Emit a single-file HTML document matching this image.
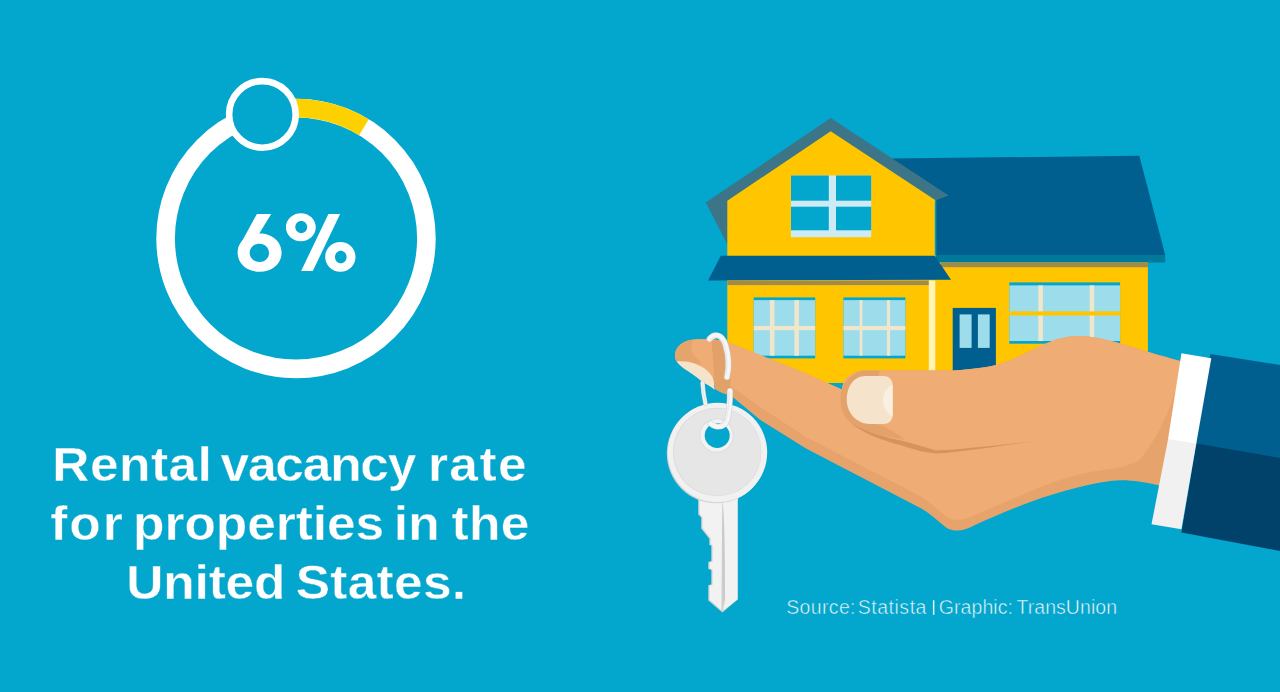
<!DOCTYPE html>
<html><head><meta charset="utf-8">
<style>
html,body{margin:0;padding:0;}
body{width:1280px;height:692px;overflow:hidden;background:#03A6CD;position:relative;font-family:"Liberation Sans",sans-serif;}
svg{position:absolute;left:0;top:0;}
</style></head>
<body>
<svg width="1280" height="692" viewBox="0 0 1280 692">
<!-- ring -->
<circle cx="296" cy="238.5" r="130.4" fill="none" stroke="#FFFFFF" stroke-width="18.6"/>
<path d="M261.59,112.72 A130.4,130.4 0 0 1 363.94,127.2" fill="none" stroke="#FDD100" stroke-width="18.6"/>
<circle cx="262.4" cy="114.4" r="33.3" fill="#03A6CD" stroke="#FFFFFF" stroke-width="6.6"/>
<!-- 6% -->
<g fill="#FFFFFF">
<path fill-rule="evenodd" d="M259.6,233.4 C247,233.4 237.6,241.5 237.6,252.6 C237.6,263.7 247,271.8 259.6,271.8 C272.2,271.8 281.6,263.7 281.6,252.6 C281.6,241.5 272.2,233.4 259.6,233.4 Z M259.4,243.8 C265,243.8 269,247.8 269,252.9 C269,258 265,262 259.4,262 C253.8,262 249.7,258 249.7,252.9 C249.7,247.8 253.8,243.8 259.4,243.8 Z"/>
<path d="M256.9,213.9 L271.2,213.9 L258.8,234.2 L252,242 L237.8,249 Z"/>
<path fill-rule="evenodd" d="M300.9,213.2 C292.6,213.2 285.9,219.5 285.9,227.2 C285.9,234.9 292.6,241.2 300.9,241.2 C309.2,241.2 315.8,234.9 315.8,227.2 C315.8,219.5 309.2,213.2 300.9,213.2 Z M301.2,221 C304.6,221 307.2,223.7 307.2,227 C307.2,230.3 304.6,233.1 301.2,233.1 C297.8,233.1 295.3,230.3 295.3,227 C295.3,223.7 297.8,221 301.2,221 Z"/>
<path fill-rule="evenodd" d="M340.4,242.1 C332,242.1 325.2,248.8 325.2,257 C325.2,265.2 332,271.8 340.4,271.8 C348.8,271.8 355.5,265.2 355.5,257 C355.5,248.8 348.8,242.1 340.4,242.1 Z M340.8,250.7 C344,250.7 346.6,253.5 346.6,257 C346.6,260.5 344,263.3 340.8,263.3 C337.6,263.3 335,260.5 335,257 C335,253.5 337.6,250.7 340.8,250.7 Z"/>
<path d="M328.4,213.9 L340.1,213.9 L312.8,271.1 L301.1,271.1 Z"/>
</g>
<!-- headline -->
<g transform="scale(1.05 1)" fill="#FFFFFF" stroke="#03A6CD" stroke-width="0.4" font-family="Liberation Sans" font-weight="bold" font-size="49">
<text x="49.76" y="481.5" textLength="152.07" lengthAdjust="spacing">Rental</text>
<text x="210.1" y="481.5" textLength="186.42" lengthAdjust="spacing">vacancy</text>
<text x="407.52" y="481.5" textLength="94.04" lengthAdjust="spacing">rate</text>
<text x="47.81" y="540.5" textLength="69.19" lengthAdjust="spacing">for</text>
<text x="126.76" y="540.5" textLength="239.05" lengthAdjust="spacing">properties</text>
<text x="374.95" y="540.5" textLength="43.86" lengthAdjust="spacing">in</text>
<text x="430.0" y="540.5" textLength="74.05" lengthAdjust="spacing">the</text>
<text x="120.19" y="599.0" textLength="151.72" lengthAdjust="spacing">United</text>
<text x="281.62" y="599.0" textLength="162.3" lengthAdjust="spacing">States.</text>
</g>
<g fill="#FFFFFF" fill-opacity="0.95" stroke="#03A6CD" stroke-width="0.5" font-family="Liberation Sans" font-size="19.5">
<text x="786.2" y="613.6" textLength="69.3" lengthAdjust="spacing">Source:</text>
<text x="857.7" y="613.6" textLength="68.73" lengthAdjust="spacing">Statista</text>
<text x="938.7" y="613.6" textLength="74.3" lengthAdjust="spacing">Graphic:</text>
<text x="1016.4" y="613.6" textLength="100.73" lengthAdjust="spacing">TransUnion</text>
</g>
<rect x="932.9" y="600.3" width="1.5" height="14.5" fill="#FFFFFF" fill-opacity="0.9"/>

<!-- HOUSE -->
<!-- main roof -->
<polygon points="892,158.6 1139.3,155.7 1165.2,255 935,255" fill="#005F8E"/>
<polygon points="935,255 1165.2,255 1165.2,262.6 935,262.6" fill="#00799B"/>
<!-- right wall -->
<rect x="935" y="262.6" width="212.9" height="125" fill="#FFC600"/>
<rect x="940.8" y="262.6" width="207.1" height="4.6" fill="#A08B4C"/>
<!-- gable roof -->
<polygon points="830.7,118.1 948.7,195.6 936,200.2 727.3,244.2 705.8,202.5" fill="#3B7587"/>
<!-- gable wall + lower left wall -->
<polygon points="830.7,131.3 935.5,200.2 935.5,383 727.3,383 727.3,200.7" fill="#FFC600"/>
<rect x="934.8" y="200.5" width="1.6" height="54.5" fill="#0795C2"/>
<!-- gable window -->
<rect x="790.9" y="175.5" width="80.3" height="61.7" fill="#CDEBF4"/>
<rect x="791" y="175.5" width="37.8" height="25.2" fill="#03A6CD"/>
<rect x="836" y="175.5" width="35.2" height="25.2" fill="#03A6CD"/>
<rect x="791" y="206.7" width="37.8" height="23.6" fill="#03A6CD"/>
<rect x="836" y="206.7" width="35.2" height="23.6" fill="#03A6CD"/>
<!-- porch roof -->
<polygon points="720.8,255.7 934.8,255.7 951,279.8 708.1,280.5" fill="#005F8E"/>
<rect x="727.3" y="280.5" width="201.7" height="4.6" fill="#A08B4C"/>
<!-- pillar -->
<rect x="928.8" y="280.5" width="6.5" height="100" fill="#FFF4B5"/>
<!-- windows left -->
<g>
<rect x="753.7" y="297.4" width="61.5" height="61" fill="#03A6CD"/>
<rect x="753.7" y="300.1" width="61.5" height="55.6" fill="#9CDCEB"/>
<rect x="769.9" y="300.1" width="4.6" height="55.6" fill="#EFE6CC"/>
<rect x="794.4" y="300.1" width="4.6" height="55.6" fill="#EFE6CC"/>
<rect x="753.7" y="326" width="61.5" height="4.2" fill="#EFE6CC"/>
</g>
<g>
<rect x="843.4" y="297.4" width="62" height="61" fill="#03A6CD"/>
<rect x="843.4" y="300.1" width="62" height="55.6" fill="#9CDCEB"/>
<rect x="859.6" y="300.1" width="2.8" height="55.6" fill="#EFE6CC"/>
<rect x="886.9" y="300.1" width="3.2" height="55.6" fill="#EFE6CC"/>
<rect x="843.4" y="326" width="62" height="4.2" fill="#EFE6CC"/>
</g>
<!-- door -->
<rect x="952.7" y="307.9" width="43.2" height="70" fill="#005F8E"/>
<rect x="959.6" y="314.4" width="12" height="33.5" fill="#9CDCEB"/>
<rect x="977.9" y="314.4" width="11.8" height="33.5" fill="#9CDCEB"/>
<!-- big window -->
<rect x="1009.3" y="282.4" width="110.8" height="61.3" fill="#03A6CD"/>
<rect x="1009.3" y="285.4" width="110.8" height="55.6" fill="#9CDCEB"/>
<rect x="1038.3" y="285.4" width="4.6" height="55.6" fill="#EFE6CC"/>
<rect x="1089.6" y="285.4" width="4.6" height="55.6" fill="#EFE6CC"/>
<rect x="1009.3" y="311.4" width="110.8" height="4.1" fill="#FFC600"/>

<!-- HAND -->
<path d="M675,356.5 C674.5,347 683,340 697,339.3 L711,339.3 C720,339.8 728,342 740,347 L800,371 L842,389.5 C843,378 852,372 862,370.5 L953,370.5 C975,369 990,367 1000,364 C1030,354 1050,336 1078,336 C1105,336 1130,348 1185,362 L1162,486 C1140,481 1125,479 1110,481 C1070,487 1030,500 975,525 C965,530.5 955,533 946,527.5 C938,521 930,513.5 921.8,508.7 L806,448.6 L760,419.7 L729,394 C712,384 700,376 690,370 C682,366 675,362 675,357 Z" fill="#E6A46C"/>
<path d="M675,356.5 C674.5,347 683,340 697,339.3 L711,339.3 C720,339.8 728,342 740,347 L800,371 L842,389.5 C843,378 852,372 862,370.5 L953,370.5 C975,369 990,367 1000,364 C1030,354 1050,336 1078,336 C1105,336 1130,348 1183,362 C1176,390 1168,425 1140,459.5 C1130,466 1115,469 1100,470.5 C1060,476 1030,492 975,515 C965,520 956,522 947,517 C938,510 930,502 921.8,497 L806,437 L760,407 L729,385 C712,377 700,372 690,368 C682,365 675,362 675,357 Z" fill="#EFAC74"/>
<!-- crease + thumb outline -->
<path d="M864,370.5 C850,373 840.5,385 840.5,399 C840.5,412 846,421 856,427 C870,433 888,437 905,440 C900,436 893,431 885,427 C878,424 872,424 866,421 C855,414 849,407 849,399 C849,387 856,378 878,376 L880,370.5 Z" fill="#E4A26B"/>
<path d="M852,424 C866,432 888,438 905,441.5 C915,444 925,447 935.7,450.5 C965,449.5 995,445 1034,441.5 C995,446 965,452 935.7,453.5 C920,452 910,448 900,445 C885,441 866,435 852,424 Z" fill="#D8925C"/>
<path d="M853,376 L884,376 C889,376 892.7,380 892.7,385 L892.7,415 C892.7,420 889,424 884,424 L870,424 C857,424 846.8,413 846.8,400 C846.8,387 853,376 866,376 Z" fill="#F6E3CB"/>
<path d="M892,385 C886,389 883,394 883,400.5 C883,407 886,412 892,416.6 L892.7,416 L892.7,386 Z" fill="#FAEFE3"/>
<!-- fingertip shading -->
<path d="M675,356.5 C674.5,347 683,340 694,339.4 C690,344 690,351 696,357.5 C699,360.5 701,362.5 702,364 L693.9,363.2 C688,361.5 682,361 676.6,361.4 Z" fill="#E6A46D"/>
<path d="M711.2,339.8 C717,340 722,341 727,343 L730.5,360 L730.5,382 L729,395 C724,394 719,392 715,389 C714,378 713.5,365 712.5,352 Z" fill="#E3A16A"/>
<!-- fingernail -->
<path d="M676.6,361.4 C685,361 690,362 693.9,363.2 C700,366 705,368 707.8,371.2 C711,374 713,377 713.6,380.5 L714.7,389.7 C710,386 706,384 703.2,382.8 C697,377 692,374 688.1,371.2 C683,368 679,365 676.6,361.4 Z" fill="#F6E3CB"/>

<!-- SLEEVE & CUFF -->
<polygon points="1210.3,353.9 1280,364.9 1280,459 1195.3,444.6" fill="#005F8E"/>
<polygon points="1196.3,443.6 1280,457.9 1280,550.9 1181.4,532.6" fill="#00426A"/>
<polygon points="1181.4,353.2 1211.3,358.2 1196.1,444.6 1167.9,439.9" fill="#FFFFFF"/>
<polygon points="1168.1,438.9 1196.3,443.6 1181.4,529.3 1151.5,524.3" fill="#F1F1F1"/>

<!-- KEY -->
<g>
<path d="M685,488.1 C690,491 694,495 698.2,500.2 L698.2,514.4 L701.2,517.4 L701.2,528.6 L709.3,538.7 L709.3,544.7 L711.3,545.7 L711.3,560.9 L708.3,561.9 L708.3,569 L711.3,570 L711.3,584.2 L708.3,585.2 L708.3,600.4 L722.4,612.5 L737.6,599.4 L737.6,500.2 C738.5,496 742,491 747.7,488.1 Z" fill="#D2D2D2"/>
<path d="M686.5,488.1 C691,491 695,495 699.5,500.2 L699.5,514 L702.5,517 L702.5,528 L710.6,538.2 L710.6,544.2 L712.6,545.2 L712.6,561.4 L709.6,562.4 L709.6,568.5 L712.6,569.5 L712.6,584.7 L709.6,585.7 L709.6,599.8 L722.4,611 L737.6,599.4 L737.6,500.2 C738.5,496 742,491 747.7,488.1 Z" fill="#F2F2F2"/>
<circle cx="716.5" cy="453.5" r="49.7" fill="#D2D2D2"/>
<circle cx="717.5" cy="452.5" r="49.7" fill="#F1F1F1"/>
<circle cx="717.2" cy="452" r="44.2" fill="#D9D9D9"/>
<circle cx="717.4" cy="452" r="43.6" fill="#E6E6E6"/>
<path d="M722.4,500.2 C723.6,530 724.6,580 723.2,611 L721.6,611 C721.6,580 722,530 722.4,500.2 Z" fill="#CDCDCD"/>
<path d="M722.4,500.2 C724,510 725,540 725,600 L723.4,608 Z" fill="#C9C9C9"/>
<circle cx="716.6" cy="435.5" r="17" fill="#DADADA"/>
<circle cx="716.6" cy="435.5" r="16.2" fill="#F2F2F2"/>
<circle cx="717.2" cy="435.5" r="12.5" fill="#03A6CD"/>
</g>
<!-- key ring -->
<g fill="none" stroke-linecap="round">
<path d="M702.5,383 C703,391 704,397 705.5,404" stroke="#D2D2D2" stroke-width="4.4"/>
<path d="M702.5,383 C703,391 704,397 705.5,404" stroke="#F4F4F4" stroke-width="3.4"/>
<path d="M702.5,383 C703,391 704,397 705.5,404" stroke="#DADADA" stroke-width="0.6"/>
<path d="M709.5,339 C714,333.5 722,333.5 725.5,345 C728.5,355 729.5,366 727,377 M730,391 C730,404 729,414 727,420.5 C725,425.5 721.5,427 717,426.5 C713.5,426 711.5,424.5 710.5,423.5" stroke="#D2D2D2" stroke-width="6"/>
<path d="M709.5,339 C714,333.5 722,333.5 725.5,345 C728.5,355 729.5,366 727,377 M730,391 C730,404 729,414 727,420.5 C725,425.5 721.5,427 717,426.5 C713.5,426 711.5,424.5 710.5,423.5" stroke="#F6F6F6" stroke-width="4.8"/>
<path d="M710.5,339.5 C714.5,335.5 721.5,336 724.5,346 C727,356 727.8,366 725.8,375 M729,392 C729,404 728,413 726,419 C724,423 721,425 717,424.5" stroke="#DCDCDC" stroke-width="0.7"/>
</g>
</svg>
</body></html>
